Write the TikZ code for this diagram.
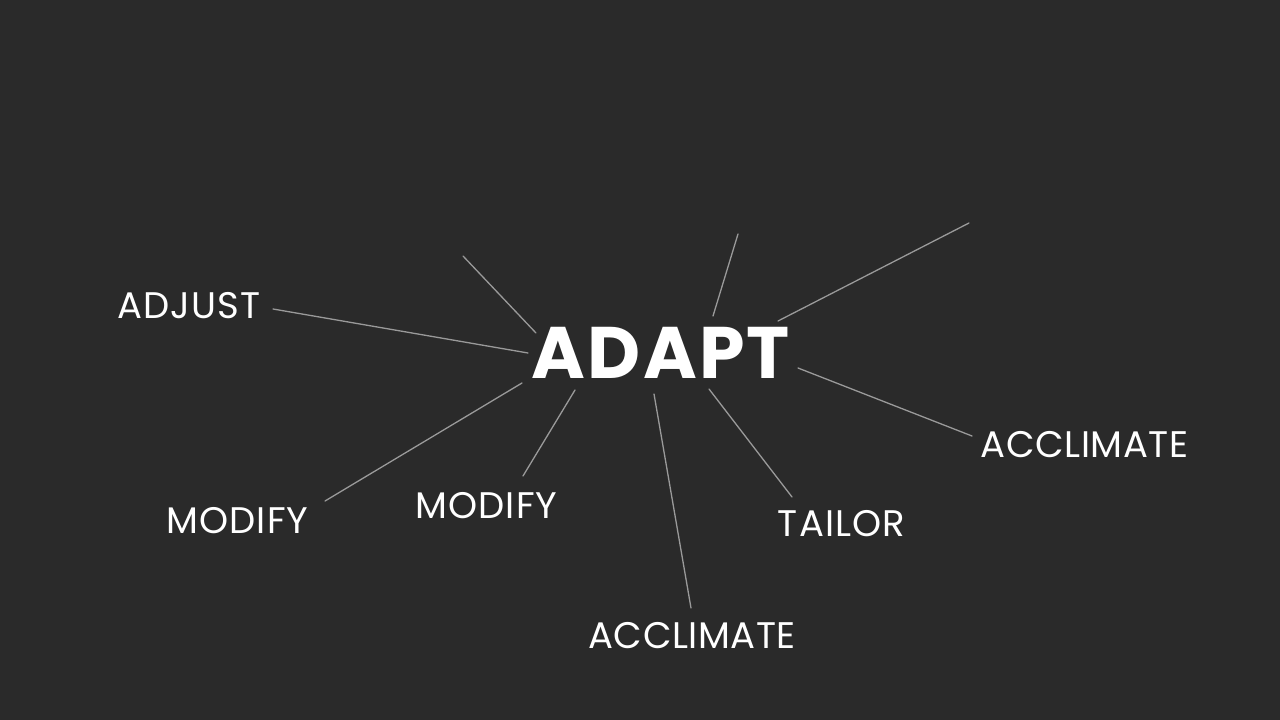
\documentclass[tikz,border=0pt]{standalone}
\usepackage{fontspec}
\setmainfont{Poppins}[LetterSpace=3]
\newfontfamily\tightfont{Poppins}[LetterSpace=1.4]
\definecolor{bg}{HTML}{2A2A2A}
\definecolor{ray}{HTML}{9A9A9A}
\tikzset{
  word/.style={text=white, inner sep=0pt, anchor=base, font=\fontsize{37}{40}\selectfont},
  tightword/.style={word, font=\tightfont\fontsize{37}{40}\selectfont},
  hub/.style={text=white, inner sep=0pt, anchor=base, font=\fontsize{73}{80}\selectfont\bfseries},
  spoke/.style={draw=ray, line width=1.3pt, line cap=round}
}
\begin{document}
\begin{tikzpicture}[x=1pt,y=-1pt]
\fill[bg] (0,0) rectangle (1280,720);
\useasboundingbox (0,0) rectangle (1280,720);
% words
\node[hub]  (adapt)  at (661,378) {ADAPT};
\node[word] (adjust) at (189,318) {ADJUST};
\node[word] (modL)   at (237.5,533) {MODIFY};
\node[word] (modM)   at (486.5,518) {MODIFY};
\node[tightword] (accB)   at (692,648) {ACCLIMATE};
\node[word] (tailor) at (841.5,536) {TAILOR};
\node[tightword] (accR)   at (1084.5,457) {ACCLIMATE};
% spoke ends
\coordinate (a1) at (528,353); \coordinate (b1) at (273,309);
\coordinate (a2) at (536,333); \coordinate (b2) at (463,256);
\coordinate (a3) at (713,316); \coordinate (b3) at (738,234);
\coordinate (a4) at (778,321); \coordinate (b4) at (969,223);
\coordinate (a5) at (798,368); \coordinate (b5) at (972,436);
\coordinate (a6) at (709,389); \coordinate (b6) at (792,497);
\coordinate (a7) at (654,394); \coordinate (b7) at (691,608);
\coordinate (a8) at (575,390); \coordinate (b8) at (523,476);
\coordinate (a9) at (522,383); \coordinate (b9) at (325,501);
\foreach \i in {1,...,9} { \draw[spoke] (a\i) -- (b\i); }
\end{tikzpicture}
\end{document}
